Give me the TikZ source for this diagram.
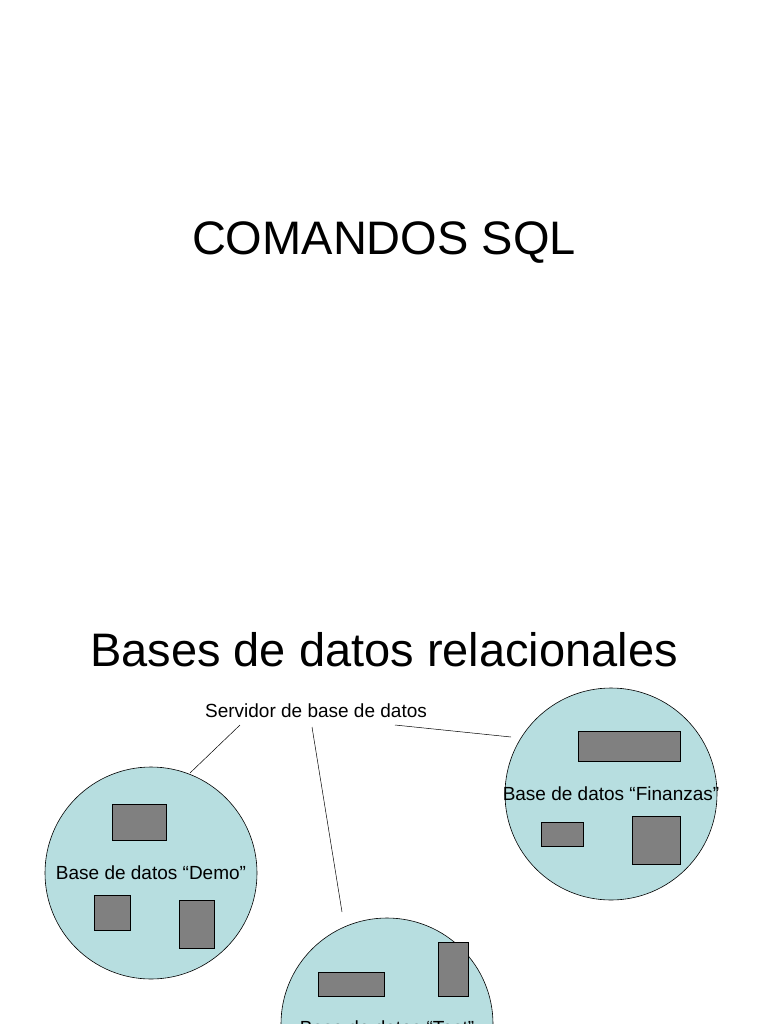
\documentclass[tikz,border=0pt]{standalone}
\usepackage{fontspec}
\setmainfont{Liberation Sans}
\begin{document}
\begin{tikzpicture}[x=1pt,y=-1pt,
  db/.style={circle,draw=black,fill=dbfill,line width=0.6pt,minimum size=212pt,inner sep=0pt},
  tbl/.style={draw=black,fill=gray,line width=0.6pt},
  lbl/.style={font=\fontsize{19}{22}\selectfont},
  conn/.style={draw=black,line width=0.5pt}]
\definecolor{dbfill}{HTML}{B7DEE0}
\useasboundingbox (0,0) rectangle (768,1024);
\clip (0,0) rectangle (768,1024);
\node[font=\fontsize{47}{54}\selectfont] (title) at (384,243) {COMANDOS SQL};
\node[font=\fontsize{47}{54}\selectfont] (sub) at (384,650) {Bases de datos relacionales};
\node[db] (demo) at (151,873) {};
\node[db] (fin) at (611,794) {};
\node[db] (test) at (387,1024) {};
\node[tbl,minimum width=54pt,minimum height=36pt] (d1) at (139,822) {};
\node[tbl,minimum width=36pt,minimum height=35pt] (d2) at (112,912.5) {};
\node[tbl,minimum width=35pt,minimum height=48pt] (d3) at (196.5,924) {};
\node[tbl,minimum width=102pt,minimum height=30pt] (f1) at (629,746) {};
\node[tbl,minimum width=42pt,minimum height=24pt] (f2) at (562,834) {};
\node[tbl,minimum width=48pt,minimum height=48pt] (f3) at (656,840) {};
\node[tbl,minimum width=66pt,minimum height=24pt] (t1) at (351,984) {};
\node[tbl,minimum width=30pt,minimum height=54pt] (t2) at (453,969) {};
\node[lbl] (ld) at (151,873) {Base de datos “Demo”};
\node[lbl] (lf) at (611,794) {Base de datos “Finanzas”};
\node[lbl] (lt) at (387,1028) {Base de datos “Test”};
\node[lbl] (srv) at (316,711) {Servidor de base de datos};
\coordinate (s1) at (240,725);
\coordinate (s2) at (312,727);
\coordinate (s3) at (395,725);
\draw[conn] (s1) -- (190,773);
\draw[conn] (s2) -- (342,912);
\draw[conn] (s3) -- (511,737);
\end{tikzpicture}
\end{document}
